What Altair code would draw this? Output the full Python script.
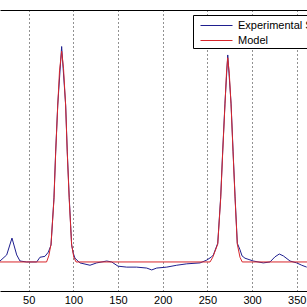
import altair as alt
import pandas as pd

series = ["Experimental Spectrum", "Model"]
colors = ["#1f1f8f", "#d8262b"]

exp_x = [17.9, 25.4, 31.3, 36.6, 40.3, 47.8, 59.0, 62.6, 68.2, 72.0, 75.0, 78.3, 80.2, 82.5,
         86.9, 91.4, 93.2, 95.4, 98.1, 99.9, 101.8, 107.4, 118.6, 126.1, 137.3, 142.9, 150.0,
         159.7, 170.9, 182.1, 187.7, 193.3, 204.5, 215.7, 226.9, 241.8, 249.3, 254.8, 256.7,
         261.6, 264.9, 267.2, 269.7, 272.8, 276.5, 278.7, 281.0, 283.5, 286.5, 288.8, 292.1,
         301.4, 312.6, 320.1, 325.7, 330.5, 335.0, 342.5, 350.0, 355.6, 361.2]
exp_y = [0.64, 0.77, 1.13, 0.77, 0.64, 0.62, 0.62, 0.72, 0.74, 0.83, 0.98, 1.99, 2.97, 3.97,
         5.22, 3.97, 2.97, 1.99, 0.98, 0.81, 0.70, 0.60, 0.55, 0.60, 0.64, 0.62, 0.53,
         0.51, 0.51, 0.49, 0.45, 0.49, 0.51, 0.55, 0.58, 0.60, 0.66, 0.73, 0.77,
         1.02, 2.01, 3.01, 4.01, 5.04, 4.01, 3.01, 2.01, 1.02, 0.88, 0.75, 0.70,
         0.64, 0.60, 0.62, 0.73, 0.79, 0.75, 0.64, 0.60, 0.55, 0.51]

model_x = [17.9, 70.0, 72.5, 75.0, 78.3, 80.2, 82.5, 84.5, 86.9, 89.0, 91.4, 93.2, 95.4, 98.0,
           100.5, 103.0, 253.0, 256.0, 261.6, 264.9, 267.2, 269.7, 271.5, 272.8, 274.5, 276.5,
           278.7, 281.0, 283.5, 286.5, 289.0, 361.5]
model_y = [0.62, 0.62, 0.75, 1.00, 1.95, 2.95, 3.95, 4.70, 5.12, 4.75, 3.95, 2.95, 1.95, 1.00,
           0.72, 0.62, 0.62, 0.72, 1.00, 1.98, 2.98, 3.98, 4.70, 4.98, 4.65, 3.98,
           2.98, 1.98, 1.00, 0.72, 0.62, 0.62]

x_ticks = [50, 100, 150, 200, 250, 300, 350]
y_grid = [1, 2, 3, 4, 5]

df = pd.concat([
    pd.DataFrame({"x": exp_x, "y": exp_y, "series": series[0], "k": 0}),
    pd.DataFrame({"x": model_x, "y": model_y, "series": series[1], "k": 1}),
], ignore_index=True)

x_scale = alt.Scale(domain=[17.9, 361.5], nice=False, zero=False)
y_scale = alt.Scale(domain=[0, 6], nice=False, zero=False)

font = "Liberation Sans"

lines = alt.Chart(df).mark_line(strokeWidth=1, clip=True).encode(
    x=alt.X("x:Q", scale=x_scale, axis=alt.Axis(
        values=x_ticks, title=None, grid=True, gridDash=[1, 3], gridColor="#222222",
        gridOpacity=1, domainColor="black", domainWidth=1, tickSize=0, labelFont=font,
        labelFontSize=11, labelColor="black", labelPadding=3, format="d")),
    y=alt.Y("y:Q", scale=y_scale, axis=alt.Axis(
        values=y_grid, labels=False, ticks=False, domain=False, title=None, grid=True,
        gridDash=[1, 3], gridColor="#222222", gridOpacity=1)),
    color=alt.Color("series:N", scale=alt.Scale(domain=series, range=colors), legend=alt.Legend(
        title=None, orient="none", legendX=193, legendY=5, symbolType="M-2,0H2",
        symbolSize=256, symbolStrokeWidth=1, labelFont=font, labelFontSize=11,
        labelColor="black", strokeColor="black", fillColor="white", padding=2,
        rowPadding=1, symbolOffset=13, labelOffset=13, cornerRadius=0)),
    order=alt.Order("k:Q"),
)

top = alt.Chart(df).mark_line(opacity=0).encode(
    x=alt.X("x:Q", scale=x_scale, axis=alt.Axis(
        orient="top", values=x_ticks, labels=False, ticks=False, grid=False, title=None,
        domainColor="black", domainWidth=1)),
    y=alt.Y("y:Q", scale=y_scale, axis=None),
)

chart = alt.layer(lines, top).resolve_axis(x="independent").properties(
    width=307, height=281,
    padding={"left": 0, "top": 10, "right": 0, "bottom": 16},
    autosize=alt.AutoSizeParams(type="none"),
    background="white",
).configure_view(stroke=None)

chart.save("out.html", embed_options={"renderer": "svg", "actions": False})
